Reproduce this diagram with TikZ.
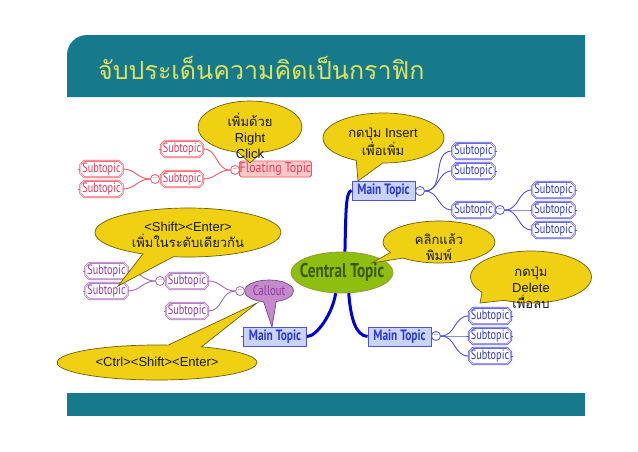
\documentclass[tikz,border=0pt]{standalone}
\usepackage{fontspec}
\usepackage{graphicx}
\usetikzlibrary{shapes.geometric,shapes.callouts,shapes.misc}
\setmainfont{Liberation Sans}
\newfontfamily\thaifont[Script=Thai]{Loma}
\newfontfamily\mapfont{PT Sans}
\definecolor{hdr}{HTML}{167A8C}
\definecolor{ttl}{HTML}{E0E25E}
\definecolor{bub}{HTML}{EFD012}
\definecolor{bubline}{HTML}{6E5E10}
\definecolor{redc}{HTML}{EE5A66}
\definecolor{redt}{HTML}{E03A5A}
\definecolor{bluec}{HTML}{5050D8}
\definecolor{bluet}{HTML}{3038C8}
\definecolor{purc}{HTML}{A868B8}
\definecolor{purt}{HTML}{8E3AA0}
\definecolor{mainfill}{HTML}{C8D4FA}
\definecolor{centfill}{HTML}{8DBE10}
\definecolor{centline}{HTML}{9A9A30}
\definecolor{centtext}{HTML}{3A5A08}
\definecolor{callfill}{HTML}{C48ACA}
\newcommand{\cond}[1]{\scalebox{0.76}[1]{#1}}
\tikzset{
  x=1pt,y=-1pt,
  bubble/.style={ellipse callout,draw=bubline,fill=bub,line width=.7pt,inner sep=0pt,callout pointer arc=#1},
  btext/.style={align=center,font=\fontsize{13}{16}\selectfont,text=black!90,inner sep=0pt},
  subtop/.style n args={2}{chamfered rectangle,chamfered rectangle xsep=2pt,chamfered rectangle ysep=2pt,draw=#1,double=white,double distance=.6pt,line width=.6pt,
     minimum width=42pt,minimum height=15.5pt,inner sep=0pt,text=#2,font=\mapfont\fontsize{13.5}{14}\selectfont},
  bsub/.style={subtop={bluec}{bluet}},
  rsub/.style={subtop={redc}{redt}},
  psub/.style={subtop={purc}{purt}},
  fold/.style={circle,draw=#1,fill=white,line width=.8pt,minimum size=9pt,inner sep=0pt,text=#1,font=\fontsize{7}{7}\selectfont},
  link/.style={draw=#1,line width=.9pt},
  tick/.style={draw=#1,line width=.8pt},
  maintop/.style={rectangle,draw=bluec,fill=mainfill,line width=.9pt,minimum width=63pt,minimum height=19pt,inner sep=0pt,text=bluet,font=\mapfont\bfseries\fontsize{15}{16}\selectfont},
  trunk/.style={draw=blue!85!black,line width=3pt},
}
\begin{document}
\begin{tikzpicture}
\useasboundingbox (0,0) rectangle (638,451);
\fill[white] (0,0) rectangle (638,451);
% header and footer
\fill[hdr] (67,97) [rounded corners=20pt] -- (67,35) [sharp corners] -- (585,35) -- (585,97) -- cycle;
\fill[hdr] (67,393) rectangle (585,416);
\node[text=ttl,anchor=west,inner sep=0pt,font=\thaifont\fontsize{25}{30}\selectfont] (title) at (98,68) {จับประเด็นความคิดเป็นกราฟิก};

% central + trunks
\node[ellipse,draw=centline,fill=centfill,line width=.8pt,minimum width=102pt,minimum height=41pt,inner xsep=-7.5pt,inner ysep=0pt,text=centtext,font=\mapfont\bfseries\fontsize{20}{20}\selectfont] (central) at (342,272.5) {\cond{Central Topic}};
\node[maintop] (m1) at (383.5,190.5) {\cond{Main Topic}};
\node[maintop] (m2) at (275,336.5) {\cond{Main Topic}};
\node[maintop] (m3) at (399.5,336.5) {\cond{Main Topic}};
\draw[trunk] (central.82) .. controls +(1,-40) and +(-6,1) .. (m1.west);
\draw[trunk] (central.-107) .. controls +(-3,20) and +(10,0) .. (m2.east);
\draw[trunk] (central.-72) .. controls +(2,25) and +(-12,-1) .. (m3.west);
\draw[tick=bluec] (m2.west) -- +(-2,0);

% upper right branch
\node[fold=bluec] (f1) at (420,191) {−};
\node[bsub] (s1) at (473.5,151) {\cond{Subtopic}};
\node[bsub] (s2) at (473.5,171) {\cond{Subtopic}};
\node[bsub] (s3) at (473.5,210) {\cond{Subtopic}};
\node[fold=bluec] (f2) at (500,210) {−};
\node[bsub] (s4) at (553.5,190) {\cond{Subtopic}};
\node[bsub] (s5) at (553.5,210) {\cond{Subtopic}};
\node[bsub] (s6) at (553.5,230) {\cond{Subtopic}};
\foreach \t in {s1,s2,s3} \draw[link=bluec] (f1.east) to[out=0,in=180,looseness=1.1] (\t.west);
\foreach \t in {s4,s5,s6} \draw[link=bluec] (f2.east) to[out=0,in=180,looseness=1.1] (\t.west);

% lower right branch
\node[fold=bluec] (f3) at (436,336) {−};
\node[bsub] (s7) at (490,316) {\cond{Subtopic}};
\node[bsub] (s8) at (490,336) {\cond{Subtopic}};
\node[bsub] (s9) at (490,356) {\cond{Subtopic}};
\foreach \t in {s7,s8,s9} \draw[link=bluec] (f3.east) to[out=0,in=180,looseness=1.1] (\t.west);
\foreach \t in {s1,s2,s4,s5,s6,s7,s8,s9} \draw[tick=bluec] (\t.east) -- +(2,0);

% floating topic
\node[rectangle,rounded corners=1.5pt,draw=redc,fill=red!22,line width=.9pt,minimum width=71pt,minimum height=16pt,inner sep=0pt,text=redt,font=\mapfont\fontsize{14}{14}\selectfont] (ft) at (275.5,169) {\scalebox{0.85}[1]{Floating Topic}};
\node[fold=redc] (f4) at (235,170) {−};
\node[rsub] (r1) at (182,149) {\cond{Subtopic}};
\node[rsub] (r2) at (182,179) {\cond{Subtopic}};
\node[fold=redc] (f5) at (155,179) {−};
\node[rsub] (r3) at (101.5,169) {\cond{Subtopic}};
\node[rsub] (r4) at (101.5,189) {\cond{Subtopic}};
\foreach \t in {r1,r2} \draw[link=redc] (f4.west) to[out=180,in=0,looseness=1.1] (\t.east);
\foreach \t in {r3,r4} \draw[link=redc] (f5.west) to[out=180,in=0,looseness=1.1] (\t.east);
\foreach \t in {r1,r3,r4} \draw[tick=redc] (\t.west) -- +(-2,0);

% callout branch
\node[ellipse callout,draw=purc!70!black,fill=callfill,line width=.7pt,minimum width=49pt,minimum height=22pt,inner sep=0pt,callout absolute pointer={(272,327)},callout pointer arc=30,text=purt,font=\mapfont\fontsize{14}{14}\selectfont] (co) at (269,291) {\cond{Callout}};
\node[fold=purc] (f6) at (240,291) {−};
\node[psub] (p1) at (187,281) {\cond{Subtopic}};
\node[psub] (p2) at (187,311) {\cond{Subtopic}};
\node[fold=purc] (f7) at (160,281) {−};
\node[psub] (p3) at (106.5,271) {\cond{Subtopic}};
\node[psub] (p4) at (106.5,291) {\cond{Subtopic}};
\foreach \t in {p1,p2} \draw[link=purc] (f6.west) to[out=180,in=0,looseness=1.1] (\t.east);
\foreach \t in {p3,p4} \draw[link=purc] (f7.west) to[out=180,in=0,looseness=1.1] (\t.east);
\foreach \t in {p2,p3,p4} \draw[tick=purc] (\t.west) -- +(-2,0);

% speech bubbles
\node[bubble=26,minimum width=104pt,minimum height=52pt,callout absolute pointer={(250,163)}] (b1) at (250,127) {};
\node[btext] (t1) at (250,136) {{\thaifont เพิ่มด้วย}\\Right\\Click};
\node[bubble=26,minimum width=121pt,minimum height=50pt,callout absolute pointer={(358,181)}] (b2) at (383.5,138) {};
\node[btext] (t2) at (383,141.5) {{\thaifont กดปุ่ม} Insert\\{\thaifont เพื่อเพิ่ม}};
\node[bubble=20,minimum width=112pt,minimum height=42pt,callout absolute pointer={(372,263)}] (b3) at (439,242) {};
\node[btext] (t3) at (439,247) {{\thaifont คลิกแล้ว}\\{\thaifont พิมพ์}};
\node[bubble=28,minimum width=121pt,minimum height=52pt,callout absolute pointer={(480,303)}] (b4) at (531,277) {};
\node[btext] (t4) at (531,287) {{\thaifont กดปุ่ม}\\Delete\\{\thaifont เพื่อลบ}};
\node[bubble=20,minimum width=186pt,minimum height=49pt,callout absolute pointer={(118,286)}] (b5) at (188,232.5) {};
\node[btext] (t5) at (188,235) {<Shift><Enter>\\{\thaifont เพิ่มในระดับเดียวกัน}};
\node[bubble=20,minimum width=200pt,minimum height=35pt,callout absolute pointer={(257,303)}] (b6) at (157,362.5) {};
\node[btext] (t6) at (157,362) {<Ctrl><Shift><Enter>};
\end{tikzpicture}
\end{document}
